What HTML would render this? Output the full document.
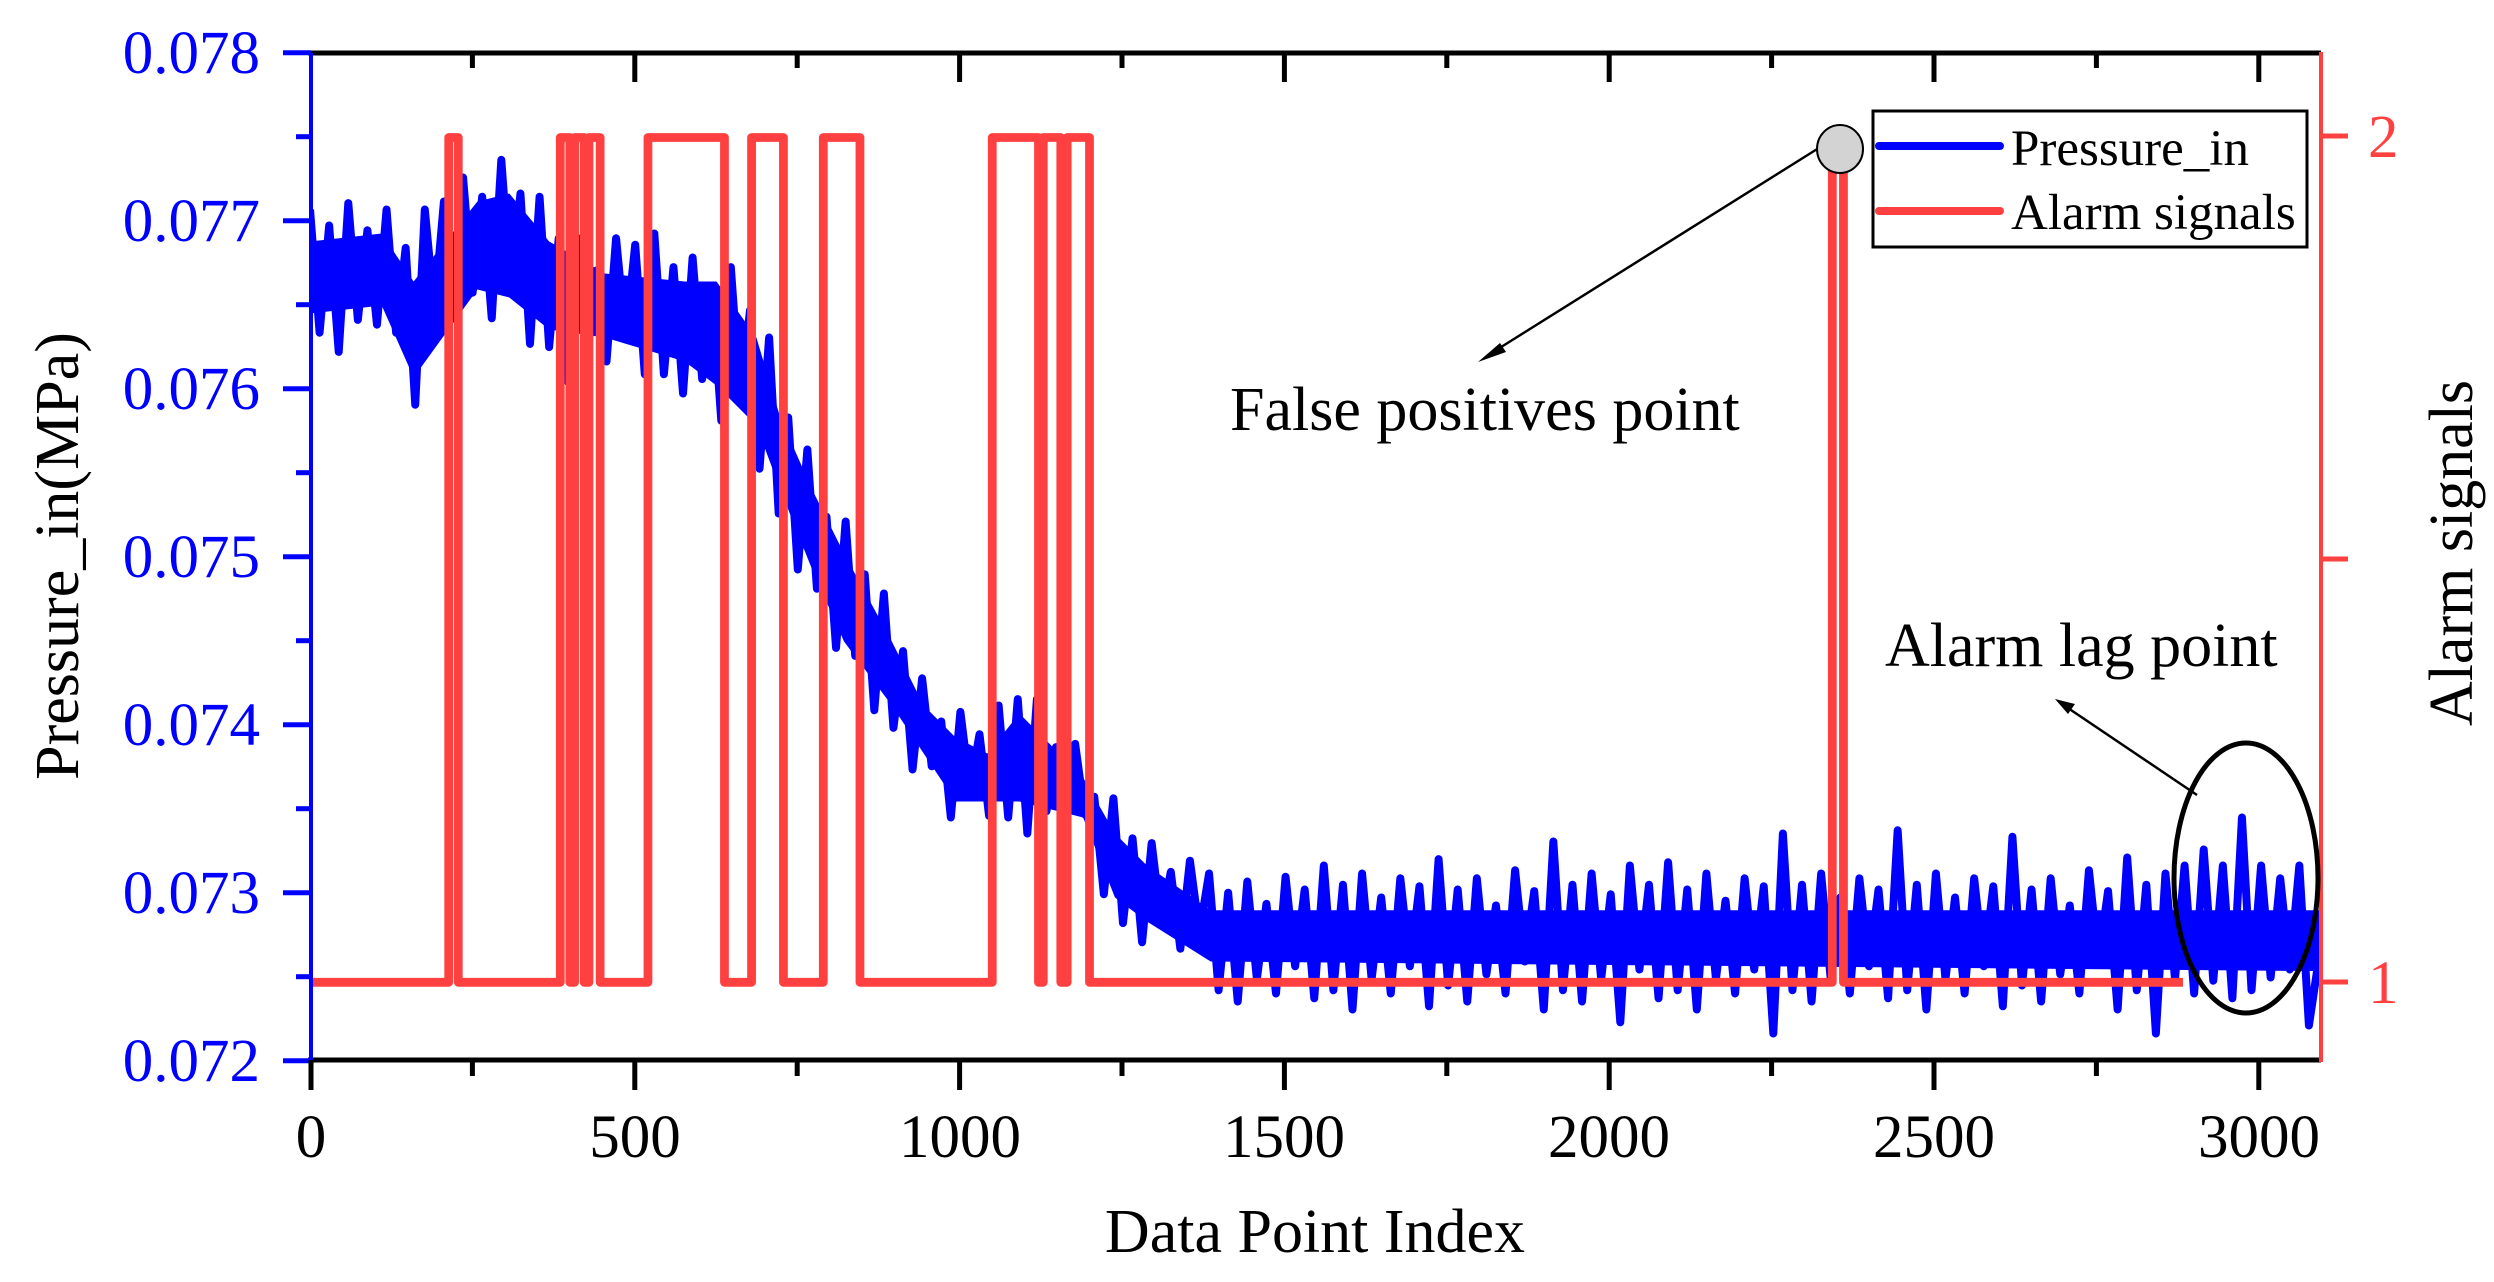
<!DOCTYPE html>
<html><head><meta charset="utf-8">
<style>
html,body{margin:0;padding:0;background:#fff;}
svg{display:block;}
text{font-family:"Liberation Serif",serif;}
</style></head>
<body>
<svg width="2494" height="1282" viewBox="0 0 2494 1282" xmlns="http://www.w3.org/2000/svg">
<defs>
<clipPath id="c"><rect x="310" y="52" width="2011" height="1009"/></clipPath>
</defs>
<g clip-path="url(#c)">
<g transform="matrix(1.594 0 0 1.6 -0.8 1.5)">
<polygon fill="#0000ff" points="195,150 240,145 260,175 300,125 320,120 345,150 380,170 430,175 450,175 475,210 490,260 510,305 530,345 560,400 580,440 600,460 620,470 640,445 680,485 700,520 720,540 760,568 1456,568 1456,606 760,600 720,575 700,560 680,510 640,500 600,500 560,440 530,400 510,355 490,305 475,265 450,240 430,225 380,210 345,205 320,185 300,180 260,235 240,190 195,195"/>
<polyline fill="none" stroke="#0000ff" stroke-width="5" stroke-linejoin="round" points="195,130 201,207 207,140 213,219 219,126 225,199 231,143 237,202 243,130 249,207 255,154 261,252 267,130 273,193 279,125 285,198 291,110 297,182 303,122 309,198 315,99 321,180 327,120 333,214 339,122 345,216 351,148 357,238 363,148 369,220 375,168 381,225 387,148 393,210 399,152 405,233 411,145 417,233 423,166 429,245 435,160 441,236 447,178 453,262 459,166 465,250 471,193 477,292 483,210 489,320 495,260 501,355 507,280 513,367 519,322 525,404 531,325 537,409 543,358 549,443 555,370 561,454 567,406 573,480 579,423 585,478 591,450 597,510 603,444 609,492 615,458 621,509 627,440 633,510 639,436 645,520 651,436 657,506 663,466 669,515 675,464 681,508 687,497 693,558 699,498 705,576 711,523 717,588 723,526 729,576 735,544 741,592 747,537 753,582 759,545 765,618 771,557 777,625 783,550 789,611 795,564 801,620 807,547 813,603 819,555 825,623 831,540 837,618 843,552 849,630 855,545 861,611 867,560 873,620 879,548 885,603 891,553 897,628 903,536 909,615 915,555 921,625 927,548 933,608 939,565 945,620 951,543 957,600 963,556 969,630 975,525 981,618 987,552 993,625 999,545 1005,611 1011,558 1017,638 1023,540 1029,605 1035,552 1041,623 1047,538 1053,618 1059,555 1065,630 1071,545 1077,611 1083,562 1089,620 1095,548 1101,605 1107,553 1113,645 1119,520 1125,618 1131,552 1137,625 1143,545 1149,611 1155,560 1161,620 1167,548 1173,603 1179,555 1185,623 1191,518 1197,618 1203,552 1209,630 1215,545 1221,611 1227,560 1233,620 1239,548 1245,603 1251,553 1257,628 1263,522 1269,615 1275,555 1281,625 1287,548 1293,608 1299,565 1305,620 1311,543 1317,600 1323,556 1329,630 1335,535 1341,618 1347,552 1353,645 1359,545 1365,611 1371,540 1377,620 1383,530 1389,612 1395,540 1401,623 1407,510 1413,618 1419,540 1425,610 1431,548 1437,605 1443,540 1449,640 1455,600"/>
<polyline fill="none" stroke="#ff4040" stroke-width="5.5" stroke-linejoin="round" points="193,613 282,613 282,85 288,85 288,613 352,613 352,85 358,85 358,613 361,613 361,85 367,85 367,613 370,613 370,85 377,85 377,613 407,613 407,85 455,85 455,613 472,613 472,85 492,85 492,613 517,613 517,85 540,85 540,613 623,613 623,85 652,85 652,613 655,613 655,85 666,85 666,613 670,613 670,85 684,85 684,613 1150,613 1150,85 1157,85 1157,613 1370,613"/>
</g>
</g>
<!-- axes -->
<line x1="308" y1="53" x2="2321" y2="53" stroke="#000" stroke-width="5"/>
<line x1="308" y1="1060" x2="2321" y2="1060" stroke="#000" stroke-width="5"/>
<line x1="311" y1="53" x2="311" y2="1062" stroke="#0000ff" stroke-width="4"/>
<line x1="2321" y1="52" x2="2321" y2="1062" stroke="#ff4040" stroke-width="4"/>
<g stroke="#0000ff" stroke-width="5">
<line x1="283" y1="52.7" x2="311" y2="52.7"/><line x1="296" y1="136.7" x2="311" y2="136.7"/>
<line x1="283" y1="220.7" x2="311" y2="220.7"/><line x1="296" y1="304.7" x2="311" y2="304.7"/>
<line x1="283" y1="388.7" x2="311" y2="388.7"/><line x1="296" y1="472.7" x2="311" y2="472.7"/>
<line x1="283" y1="556.7" x2="311" y2="556.7"/><line x1="296" y1="640.7" x2="311" y2="640.7"/>
<line x1="283" y1="724.7" x2="311" y2="724.7"/><line x1="296" y1="808.7" x2="311" y2="808.7"/>
<line x1="283" y1="892.7" x2="311" y2="892.7"/><line x1="296" y1="976.7" x2="311" y2="976.7"/>
<line x1="283" y1="1060.7" x2="311" y2="1060.7"/>
</g>
<g stroke="#000" stroke-width="5">
<line x1="311" y1="1060" x2="311" y2="1090"/><line x1="472.4" y1="1060" x2="472.4" y2="1076"/>
<line x1="634.8" y1="1060" x2="634.8" y2="1090"/><line x1="797.2" y1="1060" x2="797.2" y2="1076"/>
<line x1="959.6" y1="1060" x2="959.6" y2="1090"/><line x1="1122" y1="1060" x2="1122" y2="1076"/>
<line x1="1284.4" y1="1060" x2="1284.4" y2="1090"/><line x1="1446.8" y1="1060" x2="1446.8" y2="1076"/>
<line x1="1609.2" y1="1060" x2="1609.2" y2="1090"/><line x1="1771.6" y1="1060" x2="1771.6" y2="1076"/>
<line x1="1934" y1="1060" x2="1934" y2="1090"/><line x1="2096.4" y1="1060" x2="2096.4" y2="1076"/>
<line x1="2258.8" y1="1060" x2="2258.8" y2="1090"/>
<line x1="472.4" y1="53" x2="472.4" y2="68"/><line x1="634.8" y1="53" x2="634.8" y2="82"/>
<line x1="797.2" y1="53" x2="797.2" y2="68"/><line x1="959.6" y1="53" x2="959.6" y2="82"/>
<line x1="1122" y1="53" x2="1122" y2="68"/><line x1="1284.4" y1="53" x2="1284.4" y2="82"/>
<line x1="1446.8" y1="53" x2="1446.8" y2="68"/><line x1="1609.2" y1="53" x2="1609.2" y2="82"/>
<line x1="1771.6" y1="53" x2="1771.6" y2="68"/><line x1="1934" y1="53" x2="1934" y2="82"/>
<line x1="2096.4" y1="53" x2="2096.4" y2="68"/><line x1="2258.8" y1="53" x2="2258.8" y2="82"/>
</g>
<g stroke="#ff4040" stroke-width="5">
<line x1="2321" y1="136" x2="2348" y2="136"/><line x1="2321" y1="559" x2="2348" y2="559"/><line x1="2321" y1="982" x2="2348" y2="982"/>
</g>
<!-- left labels -->
<g fill="#0000ff" font-size="61" text-anchor="end">
<text x="260" y="73">0.078</text><text x="260" y="241">0.077</text><text x="260" y="409">0.076</text>
<text x="260" y="577">0.075</text><text x="260" y="745">0.074</text><text x="260" y="913">0.073</text>
<text x="260" y="1081">0.072</text>
</g>
<g fill="#ff4040" font-size="61">
<text x="2368" y="157">2</text><text x="2368" y="1003">1</text>
</g>
<g fill="#000" font-size="61" text-anchor="middle">
<text x="311" y="1157">0</text><text x="635" y="1157">500</text><text x="960" y="1157">1000</text>
<text x="1284" y="1157">1500</text><text x="1609" y="1157">2000</text><text x="1934" y="1157">2500</text>
<text x="2259" y="1157">3000</text>
<text x="1315" y="1252" font-size="62">Data Point Index</text>
</g>
<text transform="translate(78,556) rotate(-90)" font-size="62" text-anchor="middle">Pressure_in(MPa)</text>
<text transform="translate(2472,553) rotate(-90)" font-size="62" text-anchor="middle">Alarm signals</text>
<!-- annotations -->
<text x="1230" y="430" font-size="62">False positives point</text>
<text x="1885" y="666" font-size="62">Alarm lag point</text>
<line x1="1822" y1="146" x2="1490" y2="354" stroke="#000" stroke-width="2.5"/>
<polygon points="1478,362 1500,343 1506,352" fill="#000"/>
<line x1="2197" y1="795" x2="2065" y2="706" stroke="#000" stroke-width="2.5"/>
<polygon points="2055,699 2075,704 2068,714" fill="#000"/>
<ellipse cx="2246" cy="878" rx="72" ry="135" fill="none" stroke="#000" stroke-width="5"/>
<!-- legend -->
<rect x="1873" y="111" width="434" height="136" fill="#fff" stroke="#000" stroke-width="3"/>
<line x1="1879" y1="146" x2="2000" y2="146" stroke="#0000ff" stroke-width="8" stroke-linecap="round"/>
<line x1="1879" y1="211" x2="2000" y2="211" stroke="#ff4040" stroke-width="8" stroke-linecap="round"/>
<text x="2011" y="165" font-size="51">Pressure_in</text>
<text x="2011" y="229" font-size="51">Alarm signals</text>
<ellipse cx="1840" cy="149" rx="23" ry="24" fill="#d3d3d3" stroke="#000" stroke-width="2"/>
</svg>
</body></html>
